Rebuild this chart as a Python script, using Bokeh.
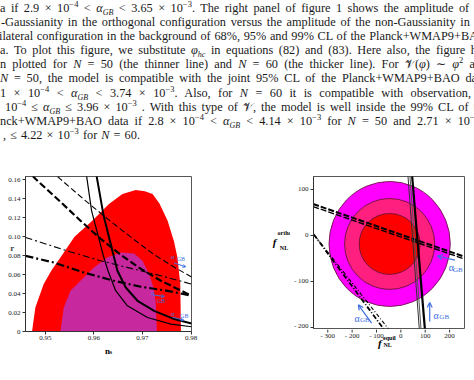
from bokeh.plotting import figure
from bokeh.layouts import column, row
from bokeh.models import Div, Label, Arrow, OpenHead, Range1d
from bokeh.core.properties import value
from bokeh.embed import file_html
from bokeh.resources import INLINE

# ---------------- paragraph text ----------------
def sup(t):
    return f'<span style="font-size:8.5px;position:relative;top:-5px">{t}</span>'

def sub(t):
    return f'<span style="font-size:8px;position:relative;top:3px">{t}</span>'

aGB = '<i>α</i>' + sub('<i>GB</i>')
text_lines = [
    f'a if 2.9 × 10{sup("−4")} &lt; {aGB} &lt; 3.65 × 10{sup("−3")}.  The right panel of figure 1 shows the amplitude of t',
    '-Gaussianity in the orthogonal configuration versus the amplitude of the non-Gaussianity in t',
    'ilateral configuration in the background of 68%, 95% and 99% CL of the Planck+WMAP9+BA',
    f'a.  To plot this figure, we substitute <i>φ</i>{sub("<i>hc</i>")} in equations (82) and (83).  Here also, the figure h',
    'n plotted for <i>N</i> = 50 (the thinner line) and <i>N</i> = 60 (the thicker line).  For 𝒱(<i>φ</i>) ∼ <i>φ</i>' + sup('2') + ' a',
    '<i>N</i> = 50, the model is compatible with the joint 95% CL of the Planck+WMAP9+BAO da',
    f'.1 × 10{sup("−4")} &lt; {aGB} &lt; 3.74 × 10{sup("−3")}.  Also, for <i>N</i> = 60 it is compatible with observation,',
    f'10{sup("−4")} ≤ {aGB} ≤ 3.96 × 10{sup("−3")} .  With this type of 𝒱, the model is well inside the 99% CL of t',
    f'nck+WMAP9+BAO data if 2.8 × 10{sup("−4")} &lt; {aGB} &lt; 4.14 × 10{sup("−3")} for <i>N</i> = 50 and 2.71 × 10{sup("−4")}',
    f', ≤ 4.22 × 10{sup("−3")} for <i>N</i> = 60.',
]
line_start = [0, 1, -1, 0, 0, 0, -3, 5, 0, 3]
line_end = [478, 478, 478, 477, 475, 477, 471, 477, 479, 140]

# ---------------- left panel data (n_s, r) ----------------
ns_ticks = [0.95, 0.96, 0.97, 0.98]
ns_tick_labels = ["0.95", "0.96", "0.97", "0.98"]
r_ticks = [0, 0.02, 0.04, 0.06, 0.08, 0.10, 0.12, 0.14, 0.16]
r_tick_labels = ["0", "0.02", "0.04", "0.06", "0.08", "0.10", "0.12", "0.14", "0.16"]

cl95_ns = [0.94725, 0.94793, 0.94965, 0.9513, 0.9531, 0.9560, 0.95966, 0.9631, 0.96587,
           0.96862, 0.9705, 0.97208, 0.9735, 0.97518, 0.9765, 0.9772, 0.97779, 0.97793]
cl95_r = [0.0, 0.0253, 0.05, 0.065, 0.0781, 0.100, 0.1168, 0.1344, 0.145,
          0.1492, 0.148, 0.145, 0.135, 0.1168, 0.095, 0.078, 0.05, 0.0]
cl68_ns = [0.9531, 0.95379, 0.95517, 0.95724, 0.9600, 0.96276, 0.96552, 0.96827,
           0.9700, 0.97138, 0.97228, 0.97276, 0.97297]
cl68_r = [0.0, 0.0253, 0.0429, 0.0535, 0.0675, 0.0781, 0.0833, 0.0823,
          0.0746, 0.0605, 0.0464, 0.0289, 0.0]

thin_solid_ns = [0.95848, 0.95952, 0.96194, 0.96289, 0.96448, 0.96690, 0.97104, 0.97586, 0.9801]
thin_solid_r = [0.1642, 0.1273, 0.0799, 0.0641, 0.0430, 0.0271, 0.0148, 0.0078, 0.0050]
thick_solid_ns = [0.96055, 0.96200, 0.9638, 0.96484, 0.96655, 0.96897, 0.97241, 0.97655, 0.9801]
thick_solid_r = [0.1640, 0.1220, 0.0851, 0.0641, 0.0464, 0.0324, 0.0218, 0.0131, 0.0084]

thick_dash_ns = [0.9474, 0.94793, 0.9531, 0.95724, 0.96138, 0.96552, 0.96966, 0.9738, 0.9801]
thick_dash_r = [0.1640, 0.1611, 0.1368, 0.1168, 0.0978, 0.0809, 0.0661, 0.0535, 0.0377]
thin_dash_ns = [0.9525, 0.9531, 0.958, 0.963, 0.968, 0.9724, 0.9765, 0.9801]
thin_dash_r = [0.1635, 0.1607, 0.139, 0.118, 0.098, 0.081, 0.068, 0.0575]
thick_dd_ns = [0.9459, 0.95172, 0.95792, 0.96413, 0.96966, 0.97518, 0.9801]
thick_dd_r = [0.0798, 0.0728, 0.0622, 0.0535, 0.0472, 0.0429, 0.0377]
thin_dd_ns = [0.9459, 0.95449, 0.96138, 0.96827, 0.9738, 0.9801]
thin_dd_r = [0.0992, 0.0851, 0.0746, 0.0658, 0.0588, 0.0500]

# ---------------- right panel data (f_NL^equil, f_NL^ortho) ----------------
fe_ticks = [-300, -200, -100, 0, 100, 200]
fe_tick_labels = ["- 300", "- 200", "- 100", "0", "100", "200"]
fo_ticks = [-200, -100, 0, 100]
fo_tick_labels = ["- 200", "- 100", "0", "100"]

cl_levels = ["99%", "95%", "68%"]
cl_center_fe = -46
cl_center_fo = -19
cl_width_fe = [498, 370, 250]
cl_height_fo = [271, 197, 132]

dash_a_fe = [-360, 262]; dash_a_fo = [67.6, -46.8]
dash_b_fe = [-360, 262]; dash_b_fo = [62.0, -51.8]
dd_a_fe = [-358, -68]; dd_a_fo = [2, -205]
dd_b_fe = [-352, -48]; dd_b_fo = [-2, -205]
vthin_a_fe = [29, 76]; vthin_a_fo = [130, -205]
vthin_b_fe = [37, 83]; vthin_b_fo = [130, -205]
vthick_fe = [46, 99]; vthick_fo = [130, -205]

BLUE = "#3f6fdf"
SERIF = "Liberation Serif"

# ---------------- text block ----------------
inner = "".join(
    f'<div style="height:14.2px;white-space:nowrap;margin-left:{s}px;width:{e - s}px;'
    f'text-align:justify;text-align-last:justify">{t}</div>'
    for t, s, e in zip(text_lines, line_start, line_end)
)
html = (f'<div style="font-family:\'{SERIF}\',serif;font-size:12.3px;line-height:14.2px;'
        f'color:#1a1a1a;padding-top:0.5px;width:474px;height:150px;overflow:hidden">{inner}</div>')
div = Div(text=html, width=474, height=150, margin=0, styles={"overflow": "hidden"})


def style_axis(ax):
    ax.major_tick_out = 3
    ax.major_tick_in = 0
    ax.minor_tick_line_color = None
    ax.major_label_text_font = SERIF
    ax.major_label_text_font_size = "7px"
    ax.major_label_text_color = "#222"
    ax.major_label_standoff = 2
    ax.axis_line_color = "#333"
    ax.major_tick_line_color = "#333"


def style_plot(p):
    p.grid.visible = False
    p.outline_line_color = "#555"
    p.background_fill_color = "white"
    p.border_fill_color = "white"


def label_fig(width, height, x_range, y_range, **borders):
    f = figure(width=width, height=height, x_range=x_range, y_range=y_range,
               output_backend="svg", toolbar_location=None,
               x_axis_location=None, y_axis_location=None, **borders)
    f.grid.visible = False
    f.outline_line_color = None
    f.background_fill_color = "white"
    f.border_fill_color = "white"
    return f


# ---------------- left figure ----------------
p1 = figure(width=237, height=195, x_range=Range1d(0.9459, 0.9801), y_range=Range1d(0, 0.1635),
            output_backend="svg", toolbar_location=None,
            min_border_left=25, min_border_right=46, min_border_top=26, min_border_bottom=14)
style_plot(p1)
style_axis(p1.xaxis)
style_axis(p1.yaxis)
p1.xaxis.ticker = ns_ticks
p1.xaxis.major_label_overrides = dict(zip(ns_ticks, ns_tick_labels))
p1.xaxis.major_label_standoff = 1
p1.yaxis.ticker = r_ticks
p1.yaxis.major_label_overrides = dict(zip(r_ticks, r_tick_labels))
p1.yaxis.axis_label = "r\n\u00a0"
p1.yaxis.axis_label_orientation = "horizontal"
p1.yaxis.axis_label_standoff = -9
p1.yaxis.axis_label_text_font = SERIF
p1.yaxis.axis_label_text_font_style = "bold"
p1.yaxis.axis_label_text_font_size = "9px"

p1.patch(cl95_ns, cl95_r, fill_color="#ff0000", line_color=None)
p1.patch(cl68_ns, cl68_r, fill_color="#c8289e", line_color=None)
p1.line(thin_dd_ns, thin_dd_r, line_color="black", line_width=1.1, line_dash="7 3 2 3")
p1.line(thick_dd_ns, thick_dd_r, line_color="black", line_width=2.2, line_dash="8 3 2 3")
p1.line(thin_dash_ns, thin_dash_r, line_color="black", line_width=1.1, line_dash="6 3")
p1.line(thick_dash_ns, thick_dash_r, line_color="black", line_width=2.2, line_dash="7 3")
p1.line(thin_solid_ns, thin_solid_r, line_color="black", line_width=1.2)
p1.line(thick_solid_ns, thick_solid_r, line_color="black", line_width=2)

left_alpha = [(0.9762, 0.0788), (0.9721, 0.0411), (0.9762, 0.0184)]
left_gb = [(0.9779, 0.0760), (0.9738, 0.0324), (0.9786, 0.0166)]
left_arrow_start = [(0.9765, 0.0724), (0.9722, 0.0385), (0.9762, 0.0150)]
left_arrow_end = [(0.9789, 0.0682), (0.9745, 0.0370), (0.9785, 0.0120)]
for (ax_, ay_), (gx, gy), (sx, sy), (ex, ey) in zip(left_alpha, left_gb, left_arrow_start, left_arrow_end):
    p1.add_layout(Label(x=ax_, y=ay_, text="α", text_font=SERIF, text_font_size="7px",
                        text_color=BLUE, text_align="center", text_baseline="middle"))
    p1.add_layout(Label(x=gx, y=gy, text="GB", text_font=SERIF, text_font_size="6px",
                        text_color=BLUE, text_align="center", text_baseline="middle"))
    p1.add_layout(Arrow(x_start=sx, y_start=sy, x_end=ex, y_end=ey, line_color=BLUE, line_width=1,
                        end=OpenHead(size=3, line_color=BLUE, line_width=1)))

# n_s label under the left panel (shares its x scale)
b1 = label_fig(237, 35, p1.x_range, Range1d(35, 0),
               min_border_left=25, min_border_right=46, min_border_top=0, min_border_bottom=0)
b1.text(x=[0.96277], y=[5], text=["n"], text_font=value(SERIF), text_font_style="bold",
        text_font_size="9px", text_align="center", text_baseline="alphabetic")
b1.text(x=[0.96350], y=[6.5], text=["s"], text_font=value(SERIF), text_font_style="bold",
        text_font_size="6px", text_align="center", text_baseline="alphabetic")

# ---------------- right figure ----------------
p2 = figure(width=184, height=179, x_range=Range1d(-358.6, 261.3), y_range=Range1d(-202.2, 127.2),
            output_backend="svg", toolbar_location=None, x_axis_location=None,
            min_border_left=22, min_border_right=10, min_border_top=26, min_border_bottom=1)
style_plot(p2)
style_axis(p2.yaxis)
p2.yaxis.ticker = fo_ticks
p2.yaxis.major_label_overrides = dict(zip(fo_ticks, fo_tick_labels))

p2.ellipse(x=[cl_center_fe] * 3, y=[cl_center_fo] * 3, width=cl_width_fe, height=cl_height_fo,
           fill_color=["#ff00ff", "#ff1f7f", "#ff0000"], line_color="#5a1030", line_width=0.8)

p2.line(dash_b_fe, dash_b_fo, line_color="black", line_width=1.4, line_dash="6 2")
p2.line(dash_a_fe, dash_a_fo, line_color="black", line_width=2, line_dash="6 2")
p2.line(dd_a_fe, dd_a_fo, line_color="black", line_width=1.8, line_dash="5 2 1 2")
p2.line(dd_b_fe, dd_b_fo, line_color="black", line_width=1.1, line_dash="4 2 1 2")
p2.line(vthin_a_fe, vthin_a_fo, line_color="#333", line_width=1)
p2.line(vthin_b_fe, vthin_b_fo, line_color="#555", line_width=1)
p2.line(vthick_fe, vthick_fo, line_color="black", line_width=2.2)

right_arrows = [((-120, -190.6), (-174.5, -151)), ((118.5, -187), (118.5, -146)), ((222, -54), (150, -45))]
right_alpha = [(-180, -180), (145, -173), (207, -70)]
right_gb = [(-148, -184), (178, -178), (234, -76)]
for ((sx, sy), (ex, ey)), (ax_, ay_), (gx, gy) in zip(right_arrows, right_alpha, right_gb):
    p2.add_layout(Arrow(x_start=sx, y_start=sy, x_end=ex, y_end=ey, line_color=BLUE, line_width=1.2,
                        end=OpenHead(size=5, line_color=BLUE, line_width=1.2)))
    p2.add_layout(Label(x=ax_, y=ay_, text="α", text_font=SERIF, text_font_size="10px",
                        text_color=BLUE, text_align="center", text_baseline="middle"))
    p2.add_layout(Label(x=gx, y=gy, text="GB", text_font=SERIF, text_font_size="7px",
                        text_color=BLUE, text_align="center", text_baseline="middle"))

# y label left of the right panel (shares its y scale)
lf = label_fig(53, 230, Range1d(0, 53), p2.y_range,
               min_border_left=0, min_border_right=0, min_border_top=26, min_border_bottom=52)
lf.text(x=[37], y=[-14.5], text=["f"], text_font=value(SERIF), text_font_style="bold italic",
        text_font_size="11px", text_align="center", text_baseline="middle")
lf.text(x=[46.5, 47], y=[-28, 5.5], text=["NL", "ortho"], text_font=value(SERIF), text_font_style="bold",
        text_font_size="6px", text_align="center", text_baseline="middle")

# ticks and labels under the right panel (share its x scale)
b2 = label_fig(184, 51, p2.x_range, Range1d(51, 0),
               min_border_left=22, min_border_right=10, min_border_top=0, min_border_bottom=0)
b2.segment(x0=fe_ticks, y0=[0] * len(fe_ticks), x1=fe_ticks, y1=[3] * len(fe_ticks),
           line_color="#333", line_width=1)
b2.text(x=fe_ticks, y=[6] * len(fe_ticks), text=fe_tick_labels, text_font=value(SERIF),
        text_font_size="7px", text_color="#222", text_align="center", text_baseline="middle")
b2.text(x=[-86], y=[13], text=["f"], text_font=value(SERIF), text_font_style="bold italic",
        text_font_size="11px", text_align="center", text_baseline="middle")
b2.text(x=[-54, -47], y=[15.5, 8.7], text=["NL", "equil"], text_font=value(SERIF), text_font_style="bold",
        text_font_size="6px", text_align="center", text_baseline="middle")

root = column(div, row(column(p1, b1, spacing=0), lf, column(p2, b2, spacing=0), spacing=0), spacing=0)

open("out.html", "w").write(file_html(root, INLINE))
